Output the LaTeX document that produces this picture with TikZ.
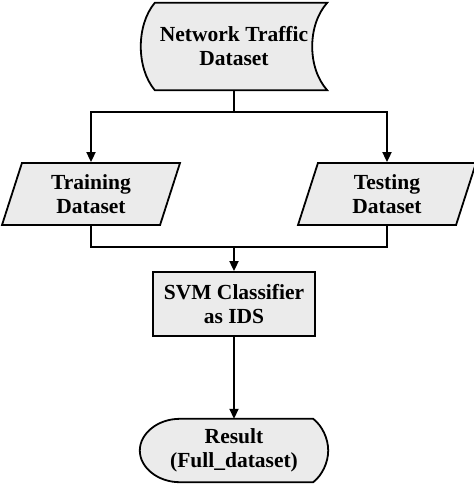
\documentclass[tikz,border=0pt]{standalone}
\usepackage{fontspec}
\setmainfont{Liberation Serif}
\usetikzlibrary{shapes.geometric,arrows.meta,backgrounds}

\begin{document}
\begin{tikzpicture}[
    x=1pt, y=-1pt,
    every node/.style={font=\fontsize{21.5}{24}\selectfont\bfseries, align=center, inner sep=0pt},
    shapeline/.style={draw=black, line width=1.8pt, fill=black!8},
    process/.style={shapeline, rectangle, minimum width=162pt, minimum height=64pt},
    io/.style={shapeline, trapezium, trapezium left angle=63, trapezium right angle=117,
        trapezium stretches body, minimum width=178pt, minimum height=62pt},
    frame/.style={rectangle, minimum width=#1, minimum height=63pt},
    link/.style={line width=1.8pt},
    arrow/.style={link, -{Triangle[length=10pt,width=9pt]}}
]
\useasboundingbox (0,0) rectangle (474,485);

\node[frame=186pt, minimum height=87pt] (data) at (234,46.5) {Network Traffic\\Dataset};
\node[io] (train) at (91,194) {Training\\Dataset};
\node[io] (test) at (387,194) {Testing\\Dataset};
\node[process] (svm) at (234,304) {SVM Classifier\\as IDS};
\node[frame=188pt] (res) at (234,450.5) {Result\\(Full\_dataset)};

\begin{scope}[on background layer]
\draw[shapeline] ([xshift=14pt]data.north west) -- (data.north east)
    .. controls ([shift={(-20,-21.5)}]data.east) and ([shift={(-20,21.5)}]data.east) .. (data.south east)
    -- ([xshift=14pt]data.south west)
    .. controls ([shift={(-4.7,21.5)}]data.west) and ([shift={(-4.7,-21.5)}]data.west) .. ([xshift=14pt]data.north west) -- cycle;
\draw[shapeline] ([xshift=40pt]res.north west) -- ([xshift=-15pt]res.north east)
    .. controls ([shift={(-6,7)}]res.north east) and ([shift={(0,-12)}]res.east) .. (res.east)
    .. controls ([shift={(0,12)}]res.east) and ([shift={(-6,-7)}]res.south east) .. ([xshift=-15pt]res.south east)
    -- ([xshift=40pt]res.south west)
    .. controls ([shift={(18,0)}]res.south west) and ([shift={(0,17)}]res.west) .. (res.west)
    .. controls ([shift={(0,-17)}]res.west) and ([shift={(18,0)}]res.north west) .. ([xshift=40pt]res.north west) -- cycle;
\end{scope}

\coordinate (split) at (234,112);
\coordinate (merge) at (234,247);

\draw[link] (data.south) -- (split);
\draw[arrow] (split) -| (train.north);
\draw[arrow] (split) -| (test.north);
\draw[link] (train.south) |- (merge);
\draw[link] (test.south) |- (merge);
\draw[arrow] (merge) -- (svm.north);
\draw[arrow] (svm.south) -- (res.north);

\end{tikzpicture}
\end{document}
